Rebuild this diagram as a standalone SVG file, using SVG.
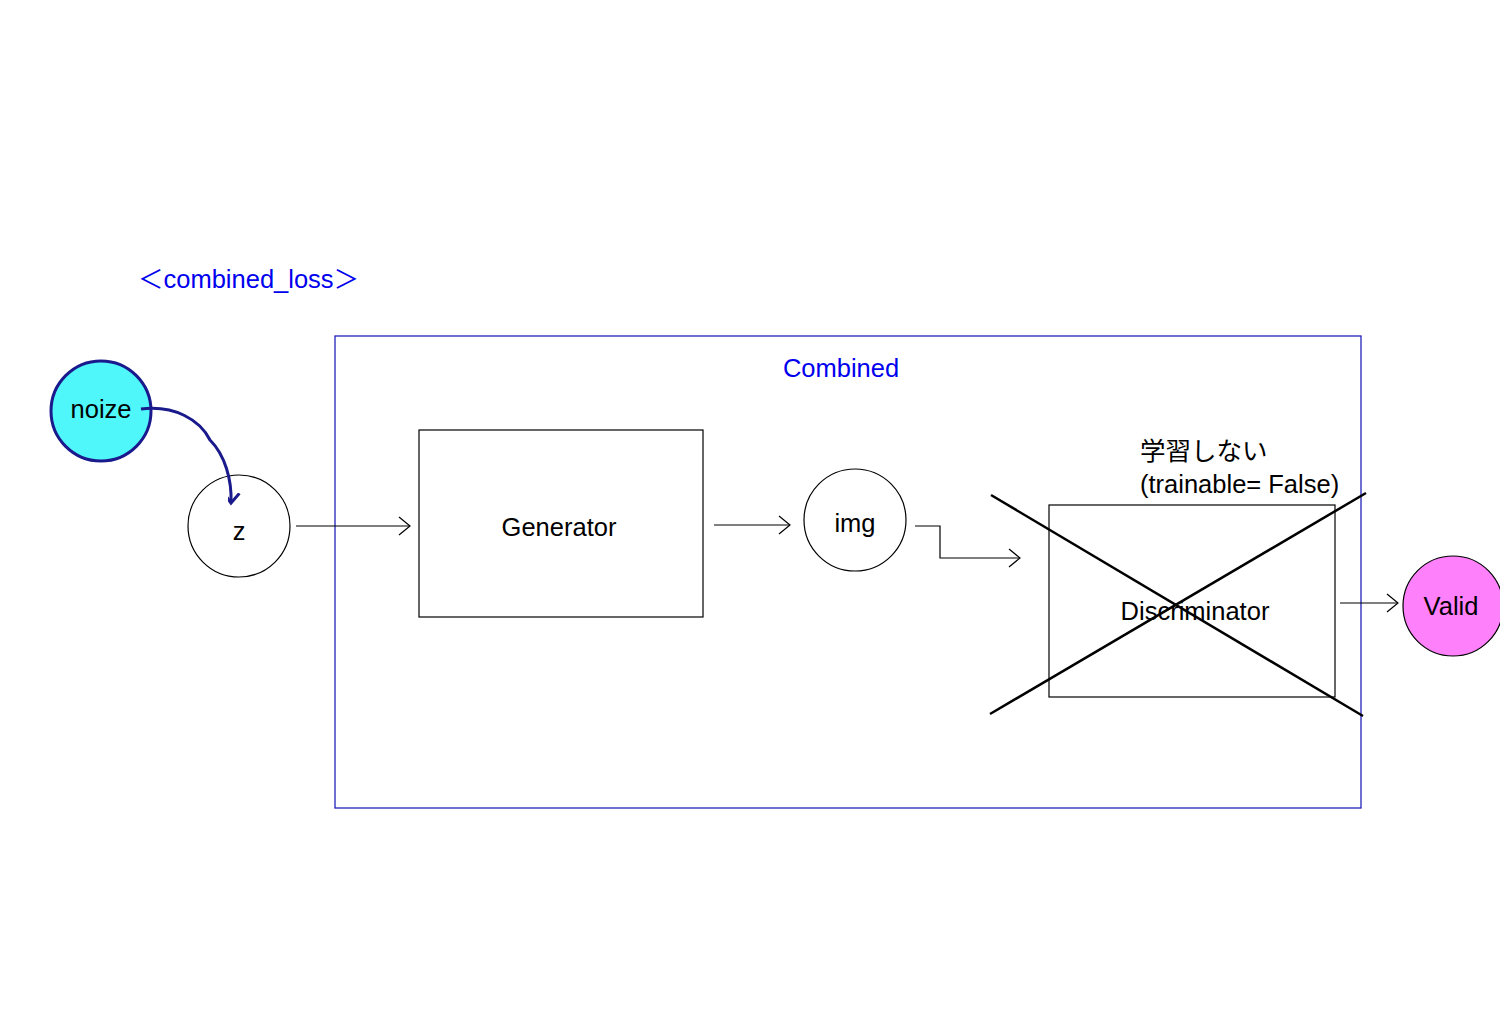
<svg xmlns="http://www.w3.org/2000/svg" width="1500" height="1013" viewBox="0 0 1500 1013">
<style>
text{font-family:"Helvetica","Liberation Sans","Noto Sans CJK JP",sans-serif;font-size:25.5px;fill:#000}
.blue{fill:#0000ee}
.box{fill:none;stroke:#000;stroke-width:1.2}
.ln{fill:none;stroke:#000;stroke-width:1.2}
</style>
<defs>
<marker id="a" markerWidth="14" markerHeight="20" refX="12" refY="10" orient="auto" markerUnits="userSpaceOnUse">
<path d="M1,1 L12,10 L1,19" fill="none" stroke="#000" stroke-width="1.2"/>
</marker>
<marker id="b" markerWidth="20" markerHeight="16" refX="10" refY="13" orient="auto" markerUnits="userSpaceOnUse" viewBox="0 0 20 16">
<path d="M2,3 L10,13 L18,3" fill="none" stroke="#1a1a8c" stroke-width="3" transform="rotate(-90 10 13)"/>
</marker>
</defs>
<rect width="1500" height="1013" fill="#fff"/>
<text x="138" y="288" class="blue">＜combined_loss＞</text>
<g id="combined"><rect x="335" y="336" width="1026" height="472" fill="none" stroke="#2222bb" stroke-width="1.3"/>
<text x="841" y="377" class="blue" text-anchor="middle">Combined</text></g>
<g id="noize"><circle cx="101" cy="411" r="50" fill="#4ff7fb" stroke="#1a1a8c" stroke-width="3"/>
<text x="101" y="418" text-anchor="middle">noize</text></g>
<g id="z"><circle cx="239" cy="526" r="51" fill="#fff" stroke="#000" stroke-width="1.2"/>
<text x="239" y="540" text-anchor="middle">z</text></g>
<g id="generator"><rect x="419" y="430" width="284" height="187" class="box"/>
<text x="559" y="536" text-anchor="middle">Generator</text></g>
<g id="img"><circle cx="855" cy="520" r="51" fill="#fff" stroke="#000" stroke-width="1.2"/>
<text x="855" y="532" text-anchor="middle">img</text></g>
<g id="discriminator"><rect x="1049" y="505" width="286" height="192" class="box"/>
<text x="1195" y="620" text-anchor="middle">Discriminator</text>
<line x1="991" y1="495" x2="1363" y2="716" stroke="#000" stroke-width="2.5"/>
<line x1="990" y1="714" x2="1366" y2="493" stroke="#000" stroke-width="2.5"/>
<text x="1140" y="460">学習しない</text>
<text x="1140" y="493">(trainable= False)</text></g>
<g id="valid"><ellipse cx="1453" cy="606" rx="50" ry="50" fill="#ff80fb" stroke="#000" stroke-width="1.2"/>
<text x="1451" y="615" text-anchor="middle">Valid</text></g>
<g id="connectors">
<path d="M141,409 C175,405 200,420 210,440 C225,455 232,480 231,503" fill="none" stroke="#1a1a8c" stroke-width="3" marker-end="url(#b)"/>
<line x1="296" y1="526" x2="410" y2="526" class="ln" marker-end="url(#a)"/>
<line x1="714" y1="525" x2="790" y2="525" class="ln" marker-end="url(#a)"/>
<path d="M915,526 H940 V558 H1020" class="ln" marker-end="url(#a)"/>
<line x1="1340" y1="603" x2="1398" y2="603" class="ln" marker-end="url(#a)"/>
</g>
</svg>
